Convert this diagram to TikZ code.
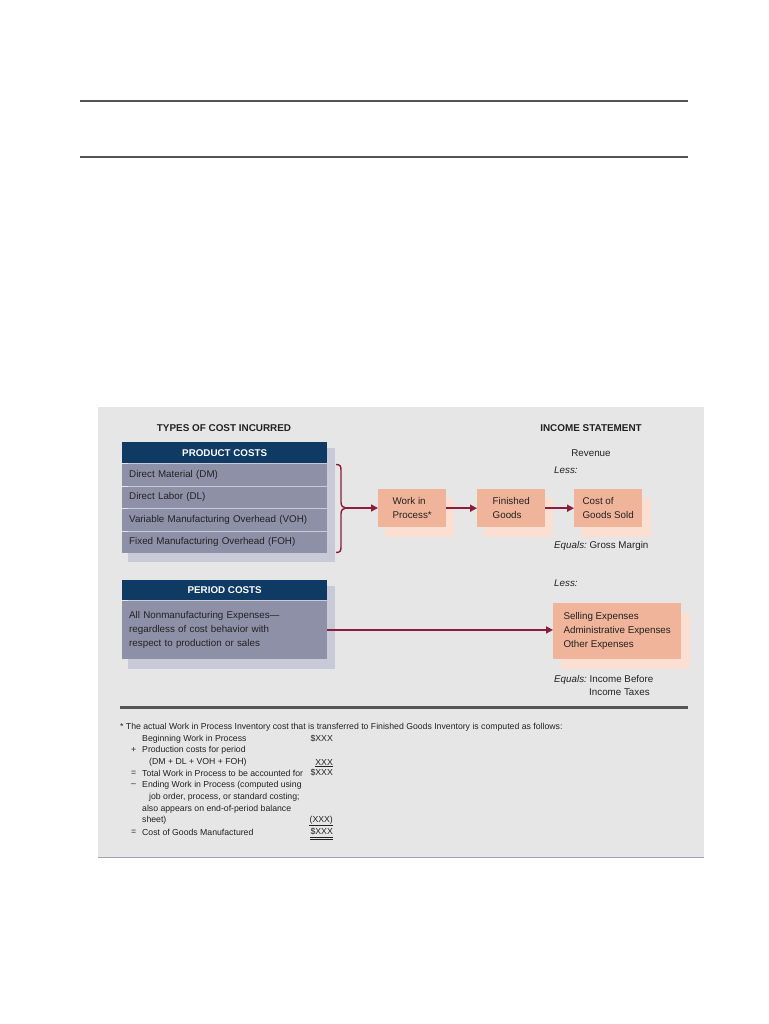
\documentclass[tikz,border=0pt]{standalone}
\usepackage{fontspec}
\setmainfont{Liberation Sans}
\usetikzlibrary{arrows.meta}
\definecolor{panelbg}{HTML}{E6E6E6}
\definecolor{navy}{HTML}{0F3A64}
\definecolor{rowfill}{HTML}{8E90A8}
\definecolor{rowshadow}{HTML}{C9CAD8}
\definecolor{salmon}{HTML}{F0B49A}
\definecolor{salmonshadow}{HTML}{FADFD2}
\definecolor{arrowred}{HTML}{8C1C3C}
\definecolor{rule}{HTML}{555555}
\definecolor{txt}{HTML}{222222}
\definecolor{bottomline}{HTML}{A79DB5}
\tikzset{
  basefont/.style={font=\fontsize{9.8}{14}\selectfont, text=txt},
  headbox/.style={fill=navy, text=white, font=\fontsize{9.8}{11}\selectfont\bfseries,
    minimum width=205, minimum height=21, inner sep=0, anchor=north west},
  rowbox/.style={fill=rowfill, basefont, text width=191, align=left, inner xsep=7, inner ysep=0,
    minimum height=21.5, anchor=north west},
  salbox/.style={fill=salmon, basefont, align=left, minimum width=68, minimum height=38, inner sep=0, anchor=north west},
  plain/.style={basefont, inner sep=0},
  title/.style={font=\fontsize{9.9}{11}\selectfont\bfseries, text=txt, inner sep=0},
  foot/.style={font=\fontsize{8.7}{11}\selectfont, text=txt, inner sep=0, anchor=west},
  arr/.style={draw=arrowred, line width=1.6pt, -{Triangle[length=7pt,width=7pt]}},
}
\begin{document}
\begin{tikzpicture}[x=1pt,y=-1pt]
\useasboundingbox (0,0) rectangle (768,1024);
\fill[white] (0,0) rectangle (768,1024);
% top rules
\draw[rule, line width=1.3pt] (80,101) -- (688,101);
\draw[rule, line width=1.3pt] (80,157) -- (688,157);
% panel
\fill[panelbg] (98,407) rectangle (704,858);
\draw[bottomline, line width=1.2pt] (98,857.5) -- (704,857.5);
\draw[rule, line width=2.8pt] (120,707.5) -- (688,707.5);

% headings
\node[title] (types) at (224,428) {TYPES OF COST INCURRED};
\node[title] (income) at (591,428) {INCOME STATEMENT};

% product costs
\fill[rowshadow] (128,448) rectangle (335,562);
\node[headbox] (pc) at (122,442) {PRODUCT COSTS};
\node[rowbox] (dm) at (122,464) {Direct Material (DM)};
\node[rowbox] (dl) at (122,486.5) {Direct Labor (DL)};
\node[rowbox] (voh) at (122,509) {Variable Manufacturing Overhead (VOH)};
\node[rowbox] (foh) at (122,531.5) {Fixed Manufacturing Overhead (FOH)};

% brace
\coordinate (bt) at (346,508);
\draw[arrowred, line width=1.4pt] (336,464.5) .. controls (340,464.5) and (341,466) .. (341,470)
  -- (341,502) .. controls (341,506) and (343,508) .. (bt)
  .. controls (343,508) and (341,510) .. (341,514)
  -- (341,547) .. controls (341,551) and (340,552.5) .. (336,552.5);

% salmon boxes
\fill[salmonshadow] (385,498) rectangle (454,537);
\fill[salmonshadow] (484,498) rectangle (553,537);
\fill[salmonshadow] (581,498) rectangle (651,537);
\node[salbox] (wip) at (378,489) {Work in\\Process*};
\node[salbox] (fg) at (477,489) {Finished\\Goods};
\node[salbox] (cogs) at (574,489) {Cost of\\Goods Sold};

\draw[arr] (bt) -- (bt -| wip.west);
\draw[arr] (wip.east) -- (fg.west);
\draw[arr] (fg.east) -- (cogs.west);

% income statement text
\node[plain] (rev) at (591,453) {Revenue};
\node[plain, anchor=west] (less1) at (554,470) {\itshape Less:};
\node[plain, anchor=west] (eq1) at (554,546) {\itshape Equals:\/\upshape\ Gross Margin};
\node[plain, anchor=west] (less2) at (554,583) {\itshape Less:};

% period costs
\fill[rowshadow] (128,586) rectangle (335,669);
\node[headbox, minimum height=20] (pch) at (122,580) {PERIOD COSTS};
\node[rowbox, minimum height=58.5] (pbody) at (122,600.5) {All Nonmanufacturing Expenses---\\regardless of cost behavior with\\respect to production or sales};

\fill[salmonshadow] (561,613) rectangle (690,669);
\node[salbox, minimum width=128, minimum height=56] (sell) at (553,603) {Selling Expenses\\Administrative Expenses\\Other Expenses};
\draw[arr] (pbody.east) -- (pbody.east -| sell.west);

\node[plain, anchor=west] (eq2) at (554,680) {\itshape Equals:\/\upshape\ Income Before};
\node[plain, anchor=west] (eq2b) at (589,692) {Income Taxes};

% footnote
\node[foot] (f0) at (120,727) {* The actual Work in Process Inventory cost that is transferred to Finished Goods Inventory is computed as follows:};
\node[foot] (f1) at (142,739) {Beginning Work in Process};
\node[foot, anchor=east] (v1) at (333,739) {\$XXX};
\node[foot] (o2) at (131,750) {+};
\node[foot] (f2) at (142,750) {Production costs for period};
\node[foot] (f3) at (149,762) {(DM + DL + VOH + FOH)};
\node[foot, anchor=east] (v3) at (333,762) {XXX};
\draw[txt, line width=0.6pt] (v3.south west) ++(0,1.5) -- ([yshift=-1.5pt]v3.south east);
\node[foot] (o4) at (131,773) {=};
\node[foot] (f4) at (142,773) {Total Work in Process to be accounted for};
\node[foot, anchor=east] (v4) at (333,773) {\$XXX};
\node[foot] (o5) at (131,785) {--};
\node[foot] (f5) at (142,785) {Ending Work in Process (computed using};
\node[foot] (f6) at (149,797) {job order, process, or standard costing;};
\node[foot] (f7) at (142,809) {also appears on end-of-period balance};
\node[foot] (f8) at (142,820) {sheet)};
\node[foot, anchor=east] (v8) at (333,820) {(XXX)};
\draw[txt, line width=0.6pt] (v8.south west) ++(0,1.5) -- ([yshift=-1.5pt]v8.south east);
\node[foot] (o9) at (131,832) {=};
\node[foot] (f9) at (142,832) {Cost of Goods Manufactured};
\node[foot, anchor=east] (v9) at (333,832) {\$XXX};
\draw[txt, line width=0.6pt] (v9.south west) ++(0,1.5) -- ([yshift=-1.5pt]v9.south east);
\draw[txt, line width=0.6pt] (v9.south west) ++(0,3.5) -- ([yshift=-3.5pt]v9.south east);
\end{tikzpicture}
\end{document}
